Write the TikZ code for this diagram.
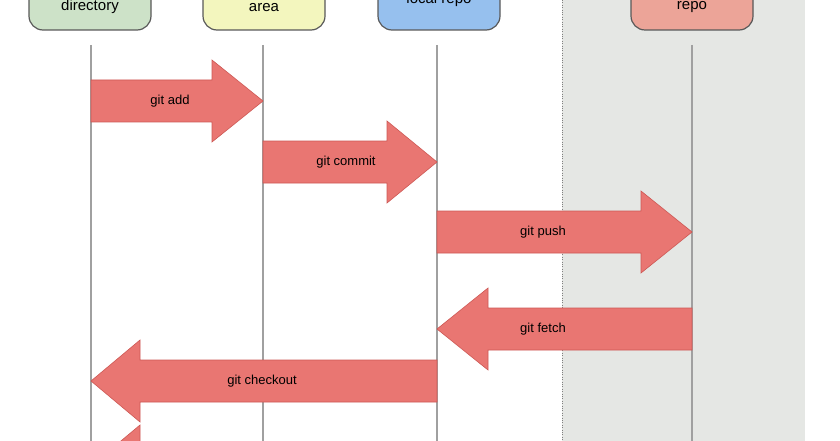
\documentclass[tikz,border=0pt]{standalone}
\usepackage{fontspec}
\setmainfont{Liberation Sans}
\usetikzlibrary{positioning}

\definecolor{arrfill}{RGB}{233,118,114}
\definecolor{arrdraw}{RGB}{205,88,84}
\definecolor{lane}{RGB}{160,160,160}
\definecolor{remotebg}{RGB}{229,231,228}

% block arrow: from x1 to x2 at height y, head length, name, label x
\newcommand{\gitarrow}[6]{%
  \path[cmd] (#1,#3-21) -- (#2-#4,#3-21) -- (#2-#4,#3-41) -- (#2,#3)
    -- (#2-#4,#3+41) -- (#2-#4,#3+21) -- (#1,#3+21) -- cycle;
  \node[cmdtext] (#5) at (#6,#3) {};
}

\begin{document}
\begin{tikzpicture}[x=1pt,y=-1pt,
    area/.style={draw=gray!70!black, line width=1.2pt, rounded corners=14pt,
      minimum width=122pt, minimum height=64pt, align=center,
      font=\fontsize{15}{17}\selectfont},
    lifeline/.style={draw=lane, line width=1.3pt},
    cmd/.style={fill=arrfill, draw=arrdraw, line width=0.6pt},
    cmdtext/.style={font=\fontsize{13}{15}\selectfont}]
  \useasboundingbox (0,0) rectangle (840,441);
  \clip (0,0) rectangle (840,441);
  \fill[remotebg] (562,0) rectangle (805,441);
  \draw[dotted, gray] (562,0) -- (562,441);

  \node[area, fill={rgb,255:red,205;green,226;blue,200}] (work) at (90,-2) {working\\directory};
  \node[area, fill={rgb,255:red,243;green,246;blue,190}] (stage) at (264,-2) {staging\\area};
  \node[area, fill={rgb,255:red,150;green,192;blue,238}, minimum height=60pt] (local) at (439,0) {local repo};
  \node[area, fill={rgb,255:red,236;green,164;blue,152}] (remote) at (692,-2) {remote\\repo};

  \coordinate (workend) at (91,441);
  \coordinate (stageend) at (263,441);
  \coordinate (localend) at (437,441);
  \coordinate (remoteend) at (692,441);
  \draw[lifeline] (91,45) -- (workend);
  \draw[lifeline] (263,45) -- (stageend);
  \draw[lifeline] (437,45) -- (localend);
  \draw[lifeline] (692,45) -- (remoteend);

  \gitarrow{91}{263}{101}{51}{add}{170}
  \node[cmdtext] at (add) {git add};
  \gitarrow{263}{437}{162}{50}{commit}{346}
  \node[cmdtext] at (commit) {git commit};
  \gitarrow{437}{692}{232}{51}{push}{543}
  \node[cmdtext] at (push) {git push};
  \gitarrow{692}{437}{329}{-51}{fetch}{543}
  \node[cmdtext] at (fetch) {git fetch};
  \gitarrow{437}{91}{381}{-49}{checkout}{262}
  \node[cmdtext] at (checkout) {git checkout};
  \gitarrow{263}{91}{466}{-49}{merge}{177}
\end{tikzpicture}
\end{document}
